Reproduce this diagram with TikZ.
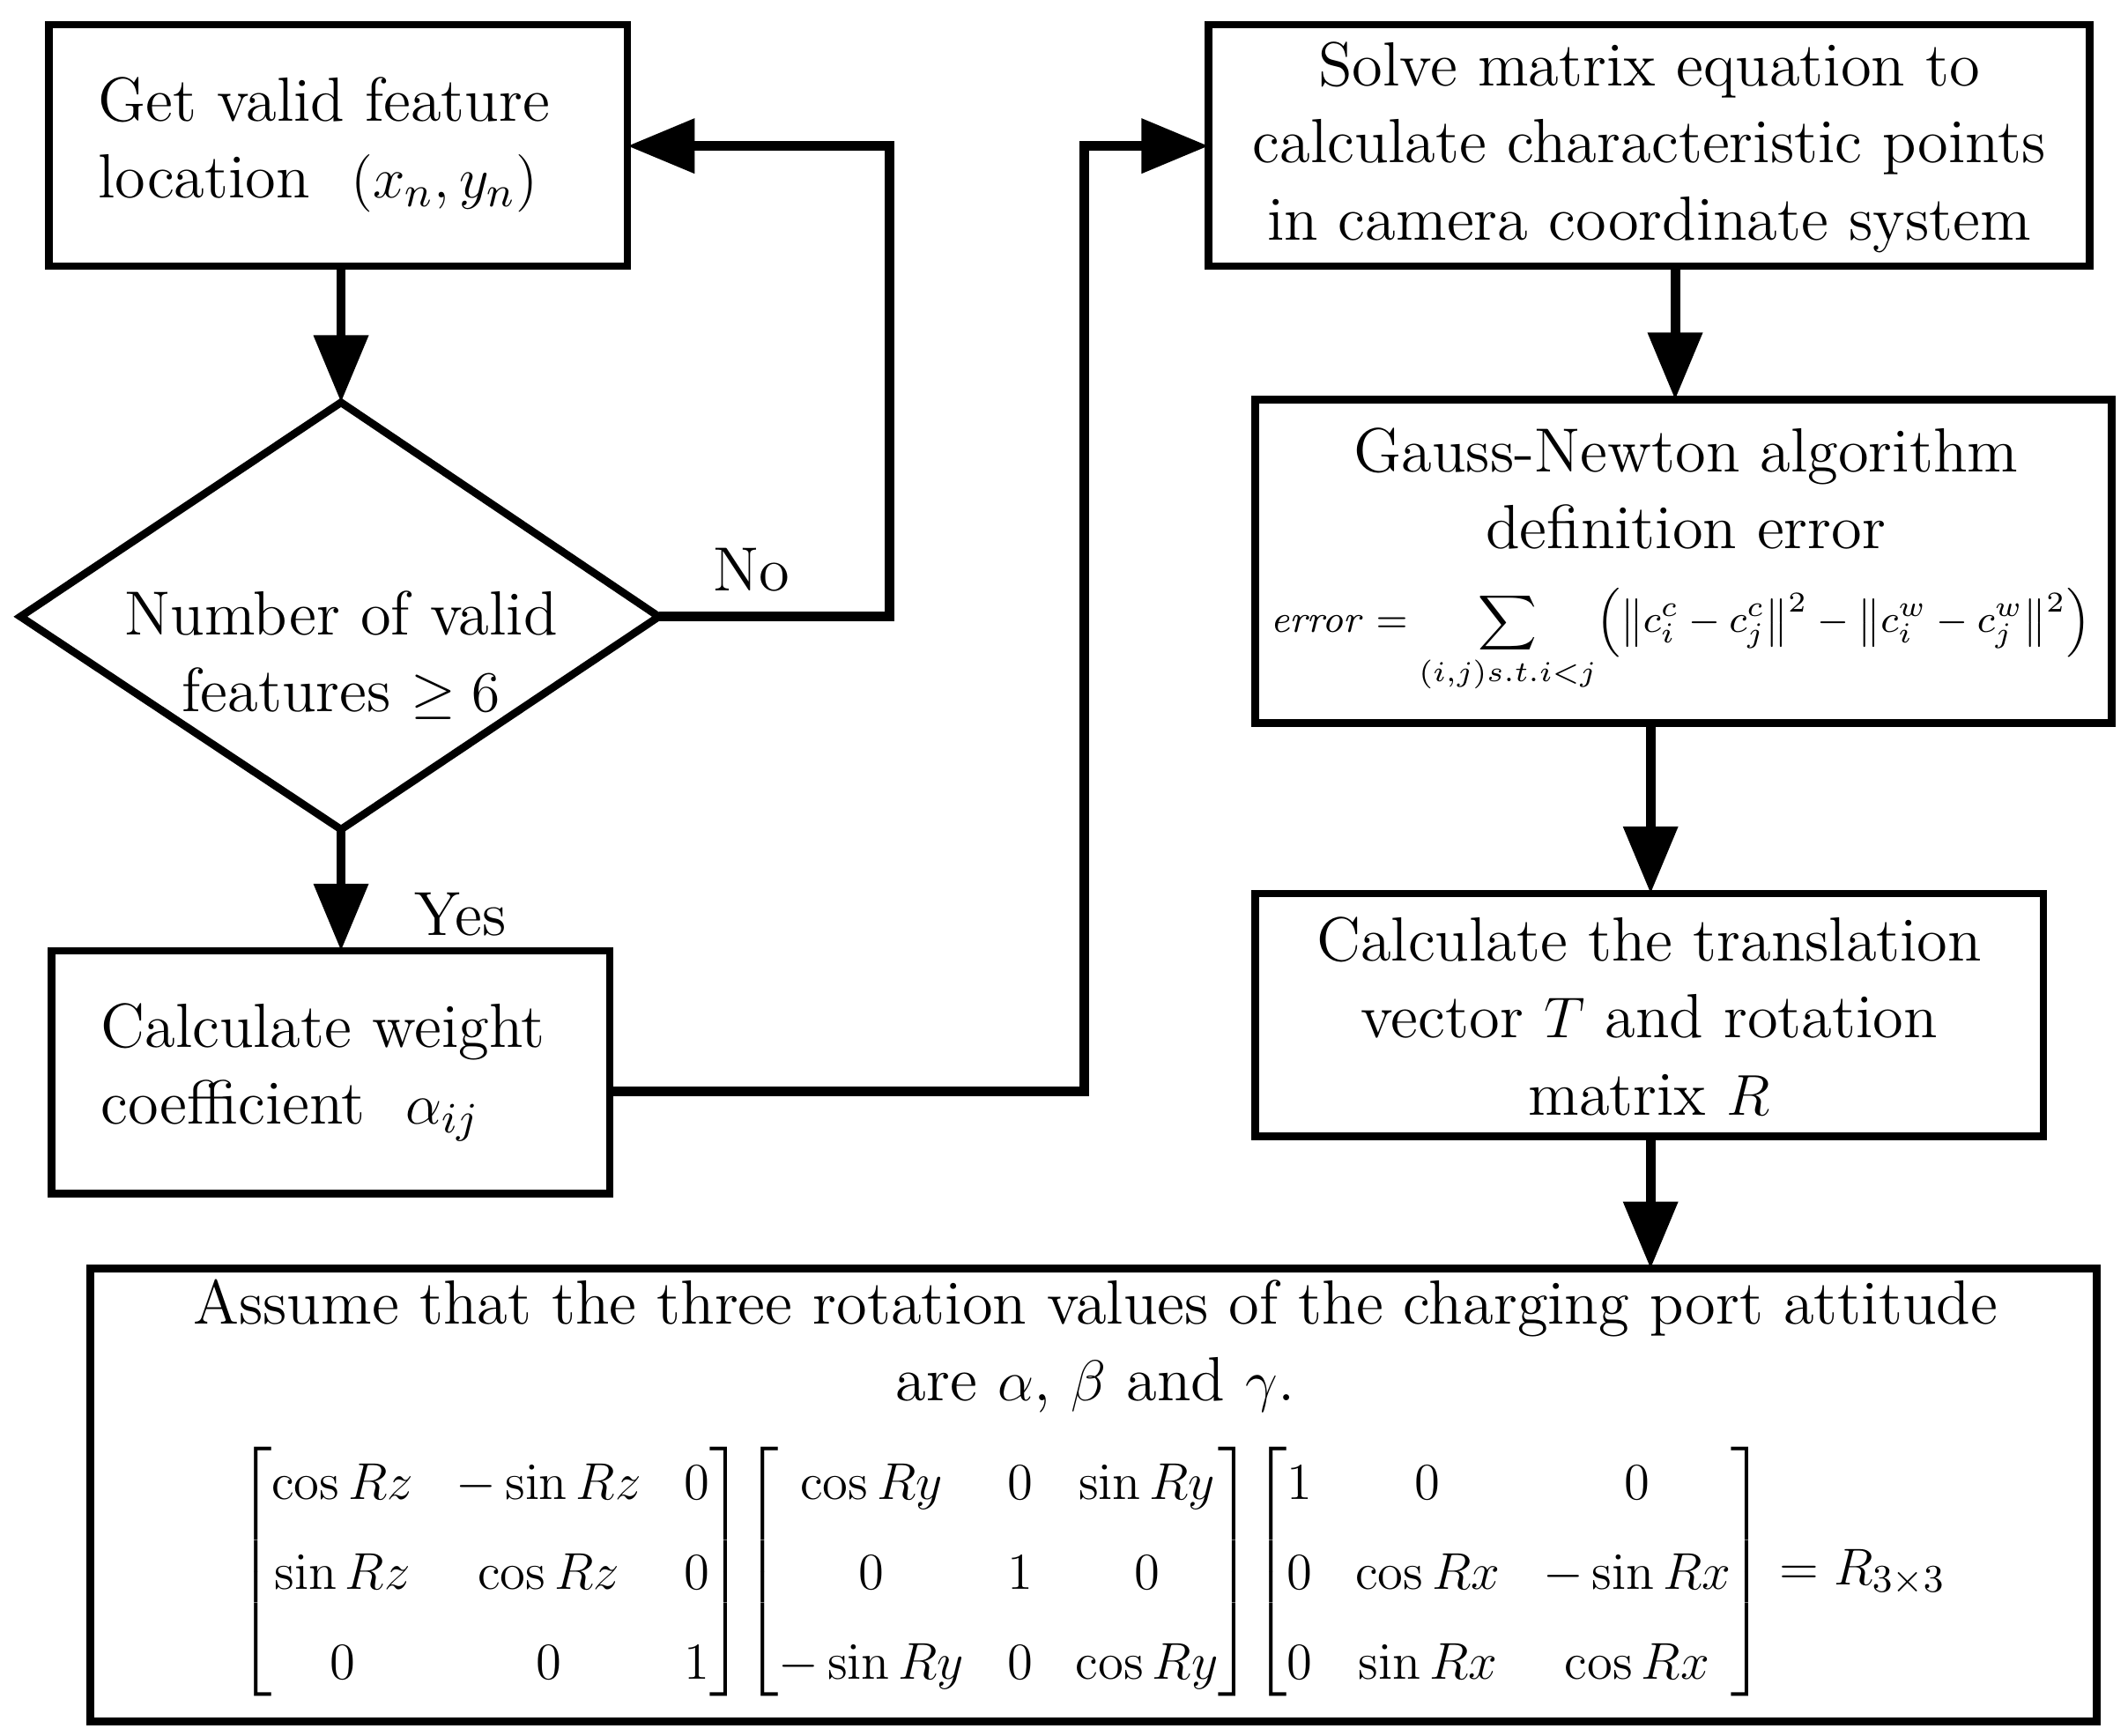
\documentclass[tikz,border=0pt]{standalone}
\usepackage{amsmath}
\usetikzlibrary{arrows.meta}
\begin{document}
\fontsize{13}{16}\selectfont
\begin{tikzpicture}[x=0.01cm,y=-0.01cm,
  arr/.style={line width=2pt,-{Triangle[length=14pt,width=11pt]}},
  frame/.style={line width=1.6pt},
  lab/.style={align=center}]
\useasboundingbox (0,0) rectangle (1560,1272);
% boxes
\draw[frame] (36,18) rectangle (460,195);
\coordinate (b1r) at (460,107); \coordinate (b1b) at (250,195);
\node[align=left,anchor=west] (t1) at (56,106) {Get valid feature\\location~ $(x_n,y_n)$};
\draw[frame] (15,452) -- (250,295) -- (483,452) -- (250,608) -- cycle;
\coordinate (dt) at (250,295); \coordinate (db) at (250,608); \coordinate (dr) at (483,452);
\node[lab] (t2) at (250,480) {Number of valid\\features $\geq 6$};
\draw[frame] (38,697) rectangle (447,875);
\coordinate (b3t) at (250,697); \coordinate (b3r) at (447,800);
\node[align=left,anchor=west] (t3) at (58,786) {Calculate weight\\coefficient~ $\alpha_{ij}$};
\draw[frame] (886,18) rectangle (1532,195);
\coordinate (s1l) at (886,107); \coordinate (s1b) at (1228,195);
\node[lab] (t4) at (1209,108) {Solve matrix equation to\\calculate characteristic points\\in camera coordinate system};
\draw[frame] (920,293) rectangle (1548,530);
\coordinate (gt) at (1228,293); \coordinate (gb) at (1210,530);
\node[lab] (t5) at (1236,358) {Gauss-Newton algorithm\\definition error};
\node (t6) at (1232,470) {\footnotesize $\mathit{error}=\displaystyle\sum_{(i,j)s.t.i<j}\!\left(\left\|c_i^c-c_j^c\right\|^2-\left\|c_i^w-c_j^w\right\|^2\right)$};
\draw[frame] (920,655) rectangle (1498,833);
\coordinate (tt) at (1210,655); \coordinate (tb) at (1210,833);
\node[lab] (t7) at (1209,745) {Calculate the translation\\vector $T$ and rotation\\matrix $R$};
\draw[frame] (66,930) rectangle (1537,1262);
\coordinate (bt) at (1210,930);
\node[lab] (t8) at (803,987) {Assume that the three rotation values of the charging port attitude\\are $\alpha$, $\beta$ and $\gamma$.};
\node[scale=0.9] (t9) at (800,1152) {$\renewcommand{\arraystretch}{1.3}\setlength{\arraycolsep}{5pt}
\begin{bmatrix}\cos Rz & -\sin Rz & 0\\ \sin Rz & \cos Rz & 0\\ 0&0&1\end{bmatrix}\!
\begin{bmatrix}\cos Ry & 0 & \sin Ry\\ 0&1&0\\ -\sin Ry & 0 & \cos Ry\end{bmatrix}\!
\begin{bmatrix}1&0&0\\ 0&\cos Rx & -\sin Rx\\ 0&\sin Rx&\cos Rx\end{bmatrix}=R_{3\times3}$};
% connectors
\draw[arr] (b1b) -- (dt);
\draw[arr] (db) -- (b3t) node[pos=0.7,right=10pt] {Yes};
\draw[arr] (dr) -- node[pos=0.4,above] {No} (652,452) -- (652,107) -- (b1r);
\draw[arr] (b3r) -- (795,800) -- (795,107) -- (s1l);
\draw[arr] (s1b) -- (gt);
\draw[arr] (gb) -- (tt);
\draw[arr] (tb) -- (bt);
\end{tikzpicture}
\end{document}
